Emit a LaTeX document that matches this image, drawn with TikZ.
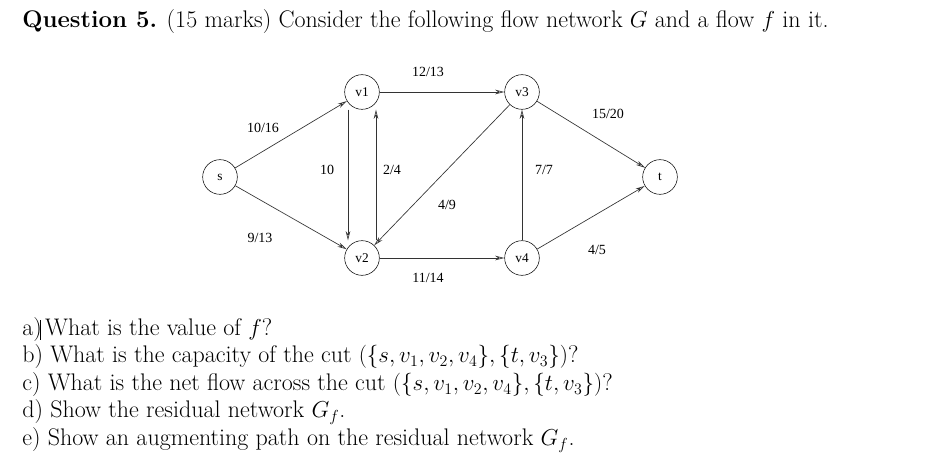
\documentclass[tikz,border=0pt]{standalone}
\usepackage{fontspec}
\newfontfamily\tms{Liberation Serif}
\usetikzlibrary{arrows.meta}
\begin{document}
\begin{tikzpicture}[x=0.75pt,y=-0.75pt,
  vtx/.style={circle,draw,thin,minimum size=26pt,inner sep=0pt,font=\tms\fontsize{10}{11}\selectfont},
  lab/.style={font=\tms\fontsize{10.5}{11}\selectfont},
  e/.style={draw=black!80,line width=0.5pt,-{Stealth[length=7pt,width=3.5pt,open]}},
  txt/.style={anchor=west,inner sep=0pt,font=\fontsize{18}{20}\selectfont}]
\useasboundingbox (0,0) rectangle (941,470);
\node[txt] (title) at (22,22) {\textbf{Question 5.} (15 marks) Consider the following flow network $G$ and a flow $f$ in it.};
\node[vtx] (s) at (220,177) {s};
\node[vtx] (v1) at (362,92) {v1};
\node[vtx] (v2) at (362,258) {v2};
\node[vtx] (v3) at (522,92) {v3};
\node[vtx] (v4) at (522,258) {v4};
\node[vtx] (t) at (660,177) {t};
\draw[e] (s) -- (v1);
\draw[e] (s) -- (v2);
\draw[e] (v1) -- (v3);
\draw[e] ([xshift=-10.5pt]v1.south) -- ([xshift=-10.5pt]v2.north);
\draw[e] ([xshift=10.5pt]v2.north) -- ([xshift=10.5pt]v1.south);
\draw[e] (v3) -- (v2);
\draw[e] (v2) -- (v4);
\draw[e] (v4) -- (v3);
\draw[e] (v3) -- (t);
\draw[e] (v4) -- (t);
\node[lab] (l1) at (263,128) {10/16};
\node[lab] (l2) at (260,238) {9/13};
\node[lab] (l3) at (428,72) {12/13};
\node[lab] (l4) at (327,170) {10};
\node[lab] (l5) at (392,170) {2/4};
\node[lab] (l6) at (447,205) {4/9};
\node[lab] (l7) at (428,278) {11/14};
\node[lab] (l8) at (544,170) {7/7};
\node[lab] (l9) at (608,114) {15/20};
\node[lab] (l10) at (597,250) {4/5};
\node[txt] (a) at (22,330) {a)\kern-1pt\rule[-3pt]{0.6pt}{15pt}\kern3pt What is the value of $f$?};
\node[txt] (b) at (22,357) {b) What is the capacity of the cut $(\{s,v_1,v_2,v_4\},\{t,v_3\})$?};
\node[txt] (c) at (22,385) {c) What is the net flow across the cut $(\{s,v_1,v_2,v_4\},\{t,v_3\})$?};
\node[txt] (d) at (22,412) {d) Show the residual network $G_f$.};
\node[txt] (ee) at (22,440) {e) Show an augmenting path on the residual network $G_f$.};
\end{tikzpicture}
\end{document}
